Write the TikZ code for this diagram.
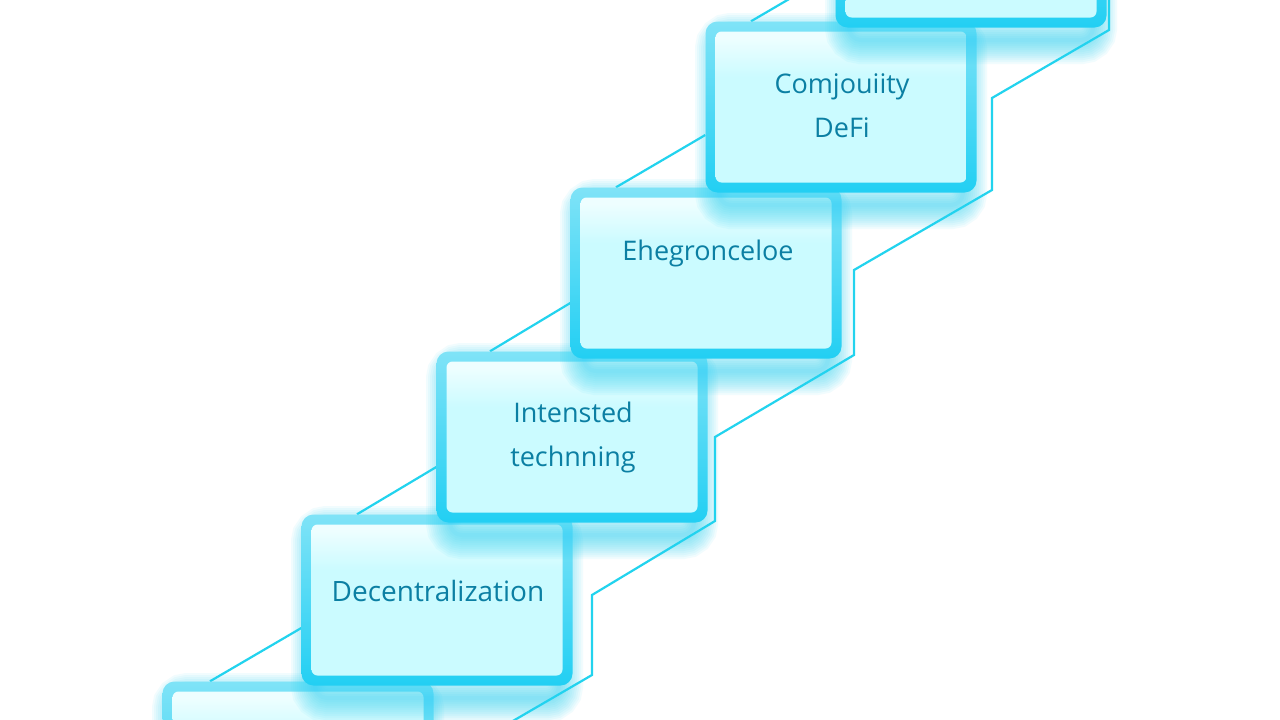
\documentclass[tikz,border=0pt]{standalone}
\usepackage{fontspec}
\setmainfont{Open Sans}
\usetikzlibrary{backgrounds}

\definecolor{rimtop}{HTML}{7FE3F7}
\definecolor{rimbot}{HTML}{22CFF3}
\definecolor{filltop}{HTML}{EEFEFF}
\definecolor{fillbot}{HTML}{CBFBFF}
\definecolor{glowcol}{HTML}{30D4F5}
\definecolor{linecol}{HTML}{22D3EE}
\definecolor{textcol}{HTML}{0B7FA3}

\pgfdeclareverticalshading{fillshade}{100bp}{color(0bp)=(fillbot); color(60bp)=(fillbot);
  color(73bp)=(filltop); color(100bp)=(filltop)}

% soft shadow behind a box, centre given in pixels
\newcommand{\softglow}[2]{
  \foreach \w in {4,8,...,48}
    \draw [glowcol, opacity=0.065, line width=\w pt, rounded corners=12pt]
      (#1-122,#2-70) rectangle (#1+122,#2+98);
}

\begin{document}
\begin{tikzpicture}[x=1pt, y=-1pt,
      block_rim/.style ={rectangle, draw=none, rounded corners=12pt,
        top color=rimtop, bottom color=rimbot,
        minimum width=271pt, minimum height=171pt, inner sep=0pt},
      block_fill/.style ={rectangle, draw=none, rounded corners=6pt,
        shading=fillshade, shading angle=0,
        minimum width=251pt, minimum height=151pt, inner sep=0pt},
      block_text/.style ={draw=none, fill=none, text=textcol,
        font=\fontsize{27}{44}\selectfont, align=center, inner sep=0pt},
      line/.style ={draw=linecol, line width=2.2pt, line join=miter}]
    %
    \useasboundingbox (0,0) rectangle (1280,720);
    %
    % 1. the stairs, lowest box first
    \softglow{298}{767}
    \node [block_rim] (b0) at (298,767) {};
    \node [block_fill] (f0) at (b0) {};
    %
    \softglow{437}{600}
    \node [block_rim] (b1) at (437,600) {};
    \node [block_fill] (f1) at (b1) {};
    \node [block_text, font=\fontsize{28}{44}\selectfont] (t1) at (438,591) {Decentralization};
    %
    \softglow{572}{437}
    \node [block_rim] (b2) at (572,437) {};
    \node [block_fill] (f2) at (b2) {};
    \node [block_text] (t2) at (573,437) {Intensted\\technning};
    %
    \softglow{706}{273}
    \node [block_rim] (b3) at (706,273) {};
    \node [block_fill] (f3) at (b3) {};
    \node [block_text] (t3) at (708,253) {Ehegronceloe};
    %
    \softglow{841}{107}
    \node [block_rim] (b4) at (841,107) {};
    \node [block_fill] (f4) at (b4) {};
    \node [block_text] (t4) at (842,106) {Comjouiity\\DeFi};
    %
    \softglow{971}{-58}
    \node [block_rim] (b5) at (971,-58) {};
    \node [block_fill] (f5) at (b5) {};
    %
    % 2. bends of the line on the right
    \coordinate (s1) at (592,675);
    \coordinate (s2) at (592,595);
    \coordinate (s3) at (715,521);
    \coordinate (s4) at (715,437);
    \coordinate (s5) at (854,355);
    \coordinate (s6) at (854,270);
    \coordinate (s7) at (992,190);
    \coordinate (s8) at (992,98);
    \coordinate (s9) at (1109,30);
    \coordinate (s10) at (1109,-6);
    %
    % 3. connecting boxes, all behind them
    \begin{pgfonlayer}{background}
      \fill [white] (0,0) rectangle (1280,720);
      \begin{scope}[every path/.style=line]
        \path ([xshift=-88pt]b0.north) -- ([yshift=-28pt]b1.west);
        \path ([xshift=-80pt]b1.north) -- ([yshift=-30pt]b2.west);
        \path ([xshift=-82pt]b2.north) -- ([yshift=-30pt]b3.west);
        \path ([xshift=-90pt]b3.north) -- ([yshift=-28pt]b4.west);
        \path ([xshift=-90pt]b4.north) -- ([yshift=-30pt]b5.west);
        \path (b0.east) -- (s1) -- (s2) -- (s3) -- (s4) -- (s5) -- (s6)
          -- (s7) -- (s8) -- (s9) -- (s10);
      \end{scope}
    \end{pgfonlayer}
\end{tikzpicture}
\end{document}
